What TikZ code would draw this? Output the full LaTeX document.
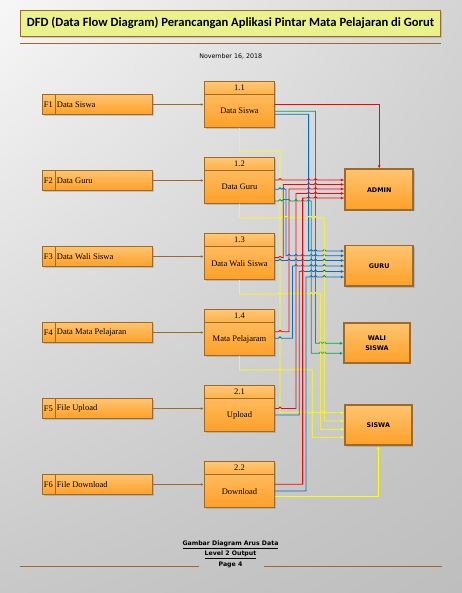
\documentclass[tikz,border=0pt]{standalone}
\usepackage{fontspec}
\setmainfont{Liberation Serif}
\newfontfamily\carl{Carlito}
\newfontfamily\dvs{DejaVu Sans}
\usetikzlibrary{arrows.meta,shadows,calc,shadings}
\definecolor{brd}{HTML}{9C6A2A}
\definecolor{orT}{HTML}{FFC470}
\definecolor{orB}{HTML}{FFA028}
\definecolor{hdT}{HTML}{FFC878}
\definecolor{hdB}{HTML}{FFB048}
\definecolor{ttl}{HTML}{EAF28C}
\definecolor{cR}{HTML}{FF0000}
\definecolor{cB}{HTML}{0070C0}
\definecolor{cG}{HTML}{00A650}
\definecolor{cY}{HTML}{FFFF00}
\definecolor{bgA}{HTML}{F7F7F7}
\definecolor{bgB}{HTML}{D4D4D4}
\definecolor{bgC}{HTML}{C8C8C8}
\definecolor{bgD}{HTML}{BEBEBE}
\newcommand\hopx[3]{-- ({#1-1.5},#3) .. controls ({#1-1.5},{#3-0.83}) and ({#1-0.83},{#3-1.5}) .. (#1,{#3-1.5}) -- (#2,{#3-1.5}) .. controls ({#2+0.83},{#3-1.5}) and ({#2+1.5},{#3-0.83}) .. ({#2+1.5},#3)}
\tikzset{
  shd/.style={drop shadow={opacity=0.35,shadow xshift=1.4pt,shadow yshift=-1.4pt}},
  fbox/.style={draw=brd,line width=0.7pt,top color=orT,bottom color=orB,minimum width=110.4pt,minimum height=20pt,inner sep=0pt,shd},
  pbox/.style={draw=brd,line width=0.7pt,top color=orT,bottom color=orB,minimum width=70.6pt,minimum height=46.2pt,inner sep=0pt,shd},
  phead/.style={draw=brd,line width=0.7pt,top color=hdT,bottom color=hdB,minimum width=70.6pt,minimum height=13.3pt,inner sep=0pt,font=\fontsize{8.5}{10}\selectfont},
  ptext/.style={inner sep=0pt,font=\fontsize{8.5}{10}\selectfont},
  rbox/.style={draw=brd,line width=1.9pt,top color=orT,bottom color=orB,inner sep=0pt,align=center,font=\dvs\bfseries\fontsize{6.4}{10}\selectfont,shd},
  fl/.style={line width=0.8pt,-{Latex[length=3.2pt,width=3pt]}},
  rd/.style={fl,draw=cR},
  bl/.style={fl,draw=cB},
  gr/.style={fl,draw=cG},
  ye/.style={fl,draw=cY},
  barr/.style={draw=brd,line width=0.7pt,-{Latex[length=3pt,width=2.6pt]}},
  rule/.style={draw=brd,line width=0.8pt}
}
\newcommand\fbx[4]{%
  \node[fbox] (#1) at (97.5,#2) {};
  \draw[brd,line width=0.7pt] ($(#1.north west)+(13,0)$) -- ($(#1.south west)+(13,0)$);
  \node[ptext] (#1a) at ($(#1.west)+(6.5,0)$) {#3};
  \node[ptext,anchor=west] (#1b) at ($(#1.west)+(14.8,0)$) {#4};
}
\newcommand\pbx[4]{%
  \node[pbox] (#1) at (239.5,#2) {};
  \node[phead] (#1h) at (239.5,{#2-16.45}) {#3};
  \node[ptext] (#1t) at (239.5,{#2+6.65}) {#4};
}
\begin{document}
\begin{tikzpicture}[x=1pt,y=-1pt]
\shade[upper left=bgA,upper right=bgB,lower left=bgC,lower right=bgD] (0,0) rectangle (462,593);
\useasboundingbox (0,0) rectangle (462,593);
% title
\node[draw=brd,line width=0.8pt,fill=ttl,minimum width=420.2pt,minimum height=25.7pt,inner sep=0pt,shd,font=\carl\bfseries\fontsize{12.6}{14}\selectfont] (title) at (230.6,23.3) {DFD (Data Flow Diagram) Perancangan Aplikasi Pintar Mata Pelajaran di Gorut};
\draw[rule] (20.3,43) -- (441.3,43);
\node[font=\dvs\fontsize{6.3}{8}\selectfont] (date) at (230.7,56) {November 16, 2018};
% external sources
\fbx{F1}{104.5}{F1}{Data Siswa}
\fbx{F2}{180.5}{F2}{Data Guru}
\fbx{F3}{256.5}{F3}{Data Wali Siswa}
\fbx{F4}{332.5}{F4}{Data Mata Pelajaran}
\fbx{F5}{408.5}{F5}{File Upload}
\fbx{F6}{484.5}{F6}{File Download}
% processes
\pbx{P1}{104.5}{1.1}{Data Siswa}
\pbx{P2}{180.5}{1.2}{Data Guru}
\pbx{P3}{256.5}{1.3}{Data Wali Siswa}
\pbx{P4}{332.5}{1.4}{Mata Pelajaram}
\pbx{P5}{408.5}{2.1}{Upload}
\pbx{P6}{484.5}{2.2}{Download}
\foreach \i in {1,...,6}{\draw[barr] (F\i.east) -- (P\i.west);}
% sinks
\node[rbox,minimum width=68.3pt,minimum height=40.5pt] (admin) at (379.2,189.7) {ADMIN};
\node[rbox,minimum width=68.3pt,minimum height=40.8pt] (guru) at (379.2,265.9) {GURU};
\node[rbox,minimum width=66pt,minimum height=39.6pt] (wali) at (377,343.2) {WALI\\SISWA};
\node[rbox,minimum width=66.7pt,minimum height=39.8pt] (siswa) at (378.3,425.3) {SISWA};
% 1.1
\draw[rd] (P1.east |- 0,104.4) -| (admin.north);
\draw[gr] (P1.east |- 0,111.3) -- (315.5,111.3) -- (315.5,343.3) \hopx{320.7}{320.7}{343.3} \hopx{324.3}{324.3}{343.3} -- (wali.west |- 0,343.3);
\draw[bl] (P1.east |- 0,114.3) -- (308.6,114.3) -- (308.6,251) \hopx{311.2}{311.2}{251} \hopx{315.5}{315.5}{251} \hopx{324.3}{324.3}{251} -- (guru.west |- 0,251);
\draw[ye] (P1.south) -- (239.5,151) -- (280,151) -- (280,412.7) \hopx{299.3}{299.3}{412.7} \hopx{302.6}{302.6}{412.7} \hopx{306}{306}{412.7} \hopx{312.3}{312.3}{412.7} \hopx{320.7}{320.7}{412.7} \hopx{324.3}{324.3}{412.7} -- (siswa.west |- 0,412.7);
% 1.2
\draw[rd] (P2.east |- 0,180) \hopx{280}{280}{180} \hopx{308.6}{308.6}{180} \hopx{315.5}{315.5}{180} -- (admin.west |- 0,180);
\draw[bl] (P2.east |- 0,189.3) \hopx{280}{280}{189.3} \hopx{283.3}{283.3}{189.3} -- (286,189.3) -- (286,255.7) \hopx{289}{289}{255.7} \hopx{296}{296}{255.7} \hopx{302.6}{302.6}{255.7} \hopx{311.2}{311.2}{255.7} \hopx{315.5}{315.5}{255.7} \hopx{324.3}{324.3}{255.7} -- (guru.west |- 0,255.7);
\draw[gr] (P2.east |- 0,201) \hopx{280}{280}{201} \hopx{283.3}{289}{201} \hopx{296}{296}{201} \hopx{302.6}{302.6}{201} \hopx{308.6}{308.6}{201} -- (311.2,201) -- (311.2,353.3) \hopx{320.7}{320.7}{353.3} \hopx{324.3}{324.3}{353.3} -- (wali.west |- 0,353.3);
\draw[ye] (P2.south) -- (239.5,218) \hopx{280}{280}{218} \hopx{283.3}{289}{218} \hopx{296}{296}{218} \hopx{302.6}{302.6}{218} \hopx{308.6}{311.2}{218} \hopx{315.5}{315.5}{218} -- (324.3,218) -- (324.3,421) -- (siswa.west |- 0,421);
% 1.3
\draw[rd] (P3.east |- 0,257.6) \hopx{280}{280}{257.6} -- (283.3,257.6) -- (283.3,184.5) \hopx{308.6}{308.6}{184.5} \hopx{315.5}{315.5}{184.5} -- (admin.west |- 0,184.5);
\draw[bl] (P3.east |- 0,260.5) \hopx{280}{280}{260.5} \hopx{289}{289}{260.5} \hopx{296}{296}{260.5} \hopx{302.6}{302.6}{260.5} \hopx{311.2}{311.2}{260.5} \hopx{315.5}{315.5}{260.5} \hopx{324.3}{324.3}{260.5} -- (guru.west |- 0,260.5);
\draw[ye] (P3.south) -- (239.5,294) \hopx{280}{280}{294} \hopx{289}{289}{294} \hopx{292.5}{292.5}{294} \hopx{296}{296}{294} \hopx{299.3}{299.3}{294} \hopx{302.6}{302.6}{294} \hopx{306}{306}{294} \hopx{311.2}{311.2}{294} \hopx{315.5}{315.5}{294} -- (320.7,294) -- (320.7,429.3) -- (siswa.west |- 0,429.3);
% 1.4
\draw[rd] (P4.east |- 0,331.7) \hopx{280}{280}{331.7} -- (289,331.7) -- (289,189) \hopx{308.6}{308.6}{189} \hopx{315.5}{315.5}{189} -- (admin.west |- 0,189);
\draw[bl] (P4.east |- 0,338.3) \hopx{280}{280}{338.3} -- (292.5,338.3) -- (292.5,266) \hopx{296}{296}{266} \hopx{302.6}{302.6}{266} \hopx{311.2}{311.2}{266} \hopx{315.5}{315.5}{266} \hopx{324.3}{324.3}{266} -- (guru.west |- 0,266);
\draw[ye] (P4.south) -- (239.5,370) \hopx{280}{280}{370} \hopx{296}{296}{370} \hopx{299.3}{299.3}{370} \hopx{302.6}{302.6}{370} \hopx{306}{306}{370} -- (312.3,370) -- (312.3,437.3) -- (siswa.west |- 0,437.3);
% 2.1
\draw[rd] (P5.east |- 0,408.5) \hopx{280}{280}{408.5} -- (296,408.5) -- (296,193.5) \hopx{308.6}{308.6}{193.5} \hopx{315.5}{315.5}{193.5} -- (admin.west |- 0,193.5);
\draw[bl] (P5.east |- 0,415) -- (299.3,415) -- (299.3,271.5) \hopx{302.6}{302.6}{271.5} \hopx{311.2}{311.2}{271.5} \hopx{315.5}{315.5}{271.5} \hopx{324.3}{324.3}{271.5} -- (guru.west |- 0,271.5);
% 2.2
\draw[rd] (P6.east |- 0,484.3) -- (302.6,484.3) -- (302.6,198) \hopx{308.6}{308.6}{198} \hopx{315.5}{315.5}{198} -- (admin.west |- 0,198);
\draw[bl] (P6.east |- 0,491) -- (306,491) -- (306,277) \hopx{311.2}{311.2}{277} \hopx{315.5}{315.5}{277} \hopx{324.3}{324.3}{277} -- (guru.west |- 0,277);
\draw[ye] (P6.east |- 0,496.7) -| (siswa.south);
% footer
\node[font=\dvs\bfseries\fontsize{6.2}{8}\selectfont,inner sep=0pt] (cap1) at (230.5,545) {\underline{Gambar Diagram Arus Data}};
\node[font=\dvs\bfseries\fontsize{6.2}{8}\selectfont,inner sep=0pt] (cap2) at (230.5,555) {\underline{Level 2 Output}};
\node[font=\dvs\bfseries\fontsize{6.2}{8}\selectfont,inner sep=0pt] (cap3) at (230.5,565) {Page 4};
\draw[rule] (20.3,566.3) -- (198.7,566.3);
\draw[rule] (264.3,566.3) -- (441.7,566.3);
\end{tikzpicture}
\end{document}
